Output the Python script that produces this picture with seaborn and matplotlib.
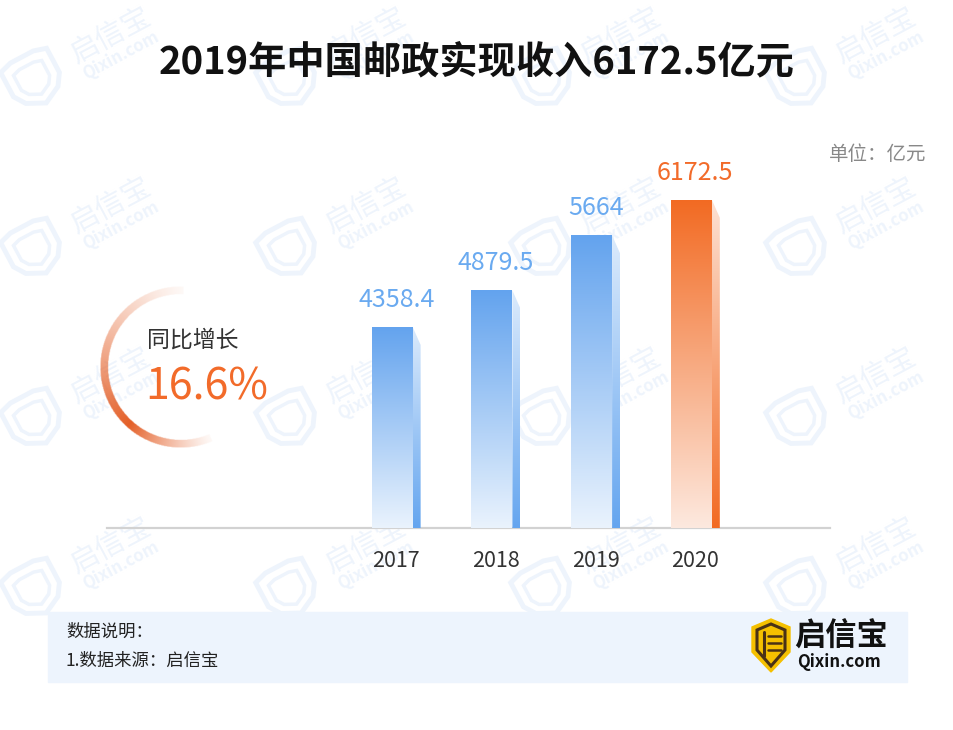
import numpy as np
import pandas as pd
import matplotlib
matplotlib.use("Agg")
import matplotlib.pyplot as plt
import seaborn as sns
from matplotlib.patches import Polygon, Rectangle
from matplotlib.colors import LinearSegmentedColormap, to_rgb

# 数据
years = ["2017", "2018", "2019", "2020"]
revenue = [4358.4, 4879.5, 5664, 6172.5]
value_labels = ["4358.4", "4879.5", "5664", "6172.5"]
growth_label = "16.6%"
title = "2019年中国邮政实现收入6172.5亿元"

BLUE_TOP = "#63a3ee"
BLUE_BOT = "#eaf3fd"
ORANGE_TOP = "#f26a22"
ORANGE_BOT = "#fde9df"

sns.set_theme(style="white")
plt.rcParams["font.family"] = ["Noto Sans CJK SC", "DejaVu Sans"]

W, H = 954, 730
fig = plt.figure(figsize=(W / 100, H / 100), dpi=100)

# 背景层 (像素坐标, y 向上)
bg = fig.add_axes([0, 0, 1, 1], zorder=0)
bg.set_xlim(0, W)
bg.set_ylim(0, H)
bg.axis("off")


def Y(y):
    return H - y


def shield_pts(cx, cy, s, rot):
    # 盾牌轮廓 (y 向下), 顶部略平, 底部圆尖
    base = [(-1, -0.85), (-0.5, -1.0), (0.5, -1.0), (1, -0.85), (1, 0.2),
            (0.7, 0.65), (0, 1.0), (-0.7, 0.65), (-1, 0.2)]
    base = np.array(base)
    t = np.radians(rot)
    R = np.array([[np.cos(t), -np.sin(t)], [np.sin(t), np.cos(t)]])
    pts = base * s @ R.T
    return [(cx + x, Y(cy + y)) for x, y in pts]


# 水印
wm_color = "#eef4fc"
for y0 in [80, 250, 420, 590]:
    for x0 in [34, 289, 544, 799]:
        bg.add_patch(Polygon(shield_pts(x0, y0, 26, -28), closed=True, fill=False,
                             edgecolor=wm_color, lw=3.5, zorder=0))
        bg.add_patch(Polygon(shield_pts(x0, y0, 16, -28), closed=True, fill=False,
                             edgecolor=wm_color, lw=2.5, zorder=0))
        bg.text(x0 + 78, Y(y0 - 44), "启信宝", rotation=28, fontsize=21,
                color=wm_color, ha="center", va="center", zorder=0)
        bg.text(x0 + 87, Y(y0 - 25), "Qixin.com", rotation=28, fontsize=12, fontweight="bold",
                color=wm_color, ha="center", va="center", zorder=0)

# 标题
bg.text(477, Y(62), title, fontsize=27.5, fontweight="bold", color="#111111",
        ha="center", va="center")
bg.text(926, Y(155), "单位：亿元", fontsize=14, color="#888888", ha="right", va="center")

# 同比增长圆环 (渐变)
rc_x, rc_y, r_out, r_w = 181, Y(367), 81, 8
n = 260
xs = np.linspace(rc_x - r_out - 2, rc_x + r_out + 2, n)
ys = np.linspace(rc_y - r_out - 2, rc_y + r_out + 2, n)
gx, gy = np.meshgrid(xs, ys)
dist = np.hypot(gx - rc_x, gy - rc_y)
ang = np.degrees(np.arctan2(gy - rc_y, gx - rc_x)) % 360
a0, apeak, a1 = 88, 228, 293
alpha = np.where(ang <= apeak, (ang - a0) / (apeak - a0), (a1 - ang) / (a1 - apeak))
alpha = np.clip(alpha, 0, 1)
alpha = np.where((ang < a0) | (ang > a1), 0, 0.04 + 0.96 * alpha ** 1.2)
ring_mask = (dist <= r_out) & (dist >= r_out - r_w)
aa = np.clip(np.minimum(r_out - dist, dist - (r_out - r_w)) + 0.5, 0, 1)
alpha = alpha * aa * ring_mask
rgba = np.zeros((n, n, 4))
rgba[..., :3] = to_rgb("#e45f27")
rgba[..., 3] = alpha
bg.imshow(rgba, origin="lower", extent=[xs[0], xs[-1], ys[0], ys[-1]], zorder=2,
          interpolation="bilinear", aspect="auto")
bg.set_xlim(0, W)
bg.set_ylim(0, H)

bg.text(147, Y(340), "同比增长", fontsize=16.5, color="#333333", ha="left", va="center", zorder=3)
bg.text(145, Y(388), growth_label, fontsize=31, color="#f26b2a", ha="left", va="center", zorder=3)

# 底部说明框
bg.add_patch(Rectangle((48, Y(682)), 859, 70, color="#edf4fd", zorder=1))
bg.text(66, Y(632), "数据说明：", fontsize=12.5, color="#222222", ha="left", va="center", zorder=2)
bg.text(66, Y(661), "1.数据来源：启信宝", fontsize=12.5, color="#222222", ha="left", va="center", zorder=2)

# logo
shield = [(752, 627), (771, 619), (790, 627), (790, 652), (771, 672), (752, 652)]
bg.add_patch(Polygon([(x, Y(y)) for x, y in shield], closed=True, color="#f5c000", zorder=2))
inner = [(757, 630), (771, 624), (785, 630), (785, 650), (771, 666), (757, 650)]
bg.add_patch(Polygon([(x, Y(y)) for x, y in inner], closed=True, fill=False,
                     edgecolor="#4a3216", lw=2.2, zorder=3))
bg.plot([764, 764], [Y(632), Y(656)], color="#4a3216", lw=2.2, zorder=3)
for yy in [636, 643, 650]:
    bg.plot([768, 781], [Y(yy), Y(yy)], color="#4a3216", lw=1.8, zorder=3)
bg.text(794, Y(637), "启信宝", fontsize=22.5, fontweight="bold", color="#111111",
        ha="left", va="center", zorder=3)
bg.text(797, Y(662), "Qixin.com", fontsize=12, fontweight="bold", color="#111111",
        ha="left", va="center", zorder=3)

# 柱状图
ax_top_px, ax_bot_px = 150, 528
ax_l_px, ax_r_px = 107, 830
ax = fig.add_axes([ax_l_px / W, (H - ax_bot_px) / H, (ax_r_px - ax_l_px) / W,
                   (ax_bot_px - ax_top_px) / H], zorder=5)
ax.patch.set_alpha(0)

df = pd.DataFrame({"year": years, "revenue": revenue})
sns.barplot(data=df, x="year", y="revenue", width=0.49, color=BLUE_TOP, ax=ax)

ymin, ymax = 1490, 6882
ax.set_ylim(ymin, ymax)
ax.set_xlim(-2.9, 4.35)
units_per_px = (ymax - ymin) / (ax_bot_px - ax_top_px)
drop = 18 * units_per_px
front_frac = 41 / 49


def grad_fill(verts, c_top, c_bot, z):
    poly = Polygon(verts, closed=True, facecolor="none", edgecolor="none")
    ax.add_patch(poly)
    px, py = zip(*verts)
    cmap = LinearSegmentedColormap.from_list("g", [c_bot, c_top])
    grad = np.linspace(0, 1, 256).reshape(-1, 1)
    im = ax.imshow(grad, cmap=cmap, origin="lower", aspect="auto", zorder=z,
                   extent=[min(px), max(px), min(py), max(py)], interpolation="bicubic")
    im.set_clip_path(poly)


for i, p in enumerate(ax.patches[:len(years)]):
    x0, w, top = p.get_x(), p.get_width(), p.get_height()
    p.set_visible(False)
    xf = x0 + w * front_frac
    xr = x0 + w
    if i == len(years) - 1:
        ct, cb, lc = ORANGE_TOP, ORANGE_BOT, "#f26b2a"
        side_top, side_bot = "#fde2d4", ORANGE_TOP
    else:
        ct, cb, lc = BLUE_TOP, BLUE_BOT, "#6aaaf0"
        side_top, side_bot = "#dcebfc", "#64a5ef"
    grad_fill([(x0, ymin), (xf, ymin), (xf, top), (x0, top)], ct, cb, 3)
    grad_fill([(xf, ymin), (xr, ymin), (xr, top - drop), (xf, top)], side_top, side_bot, 3)
    ax.text(x0 + w / 2, top + 27 * units_per_px, value_labels[i], fontsize=18, color=lc,
            ha="center", va="center")

ax.set_ylim(ymin, ymax)
ax.set_xlim(-2.9, 4.35)
ax.set_xlabel("")
ax.set_ylabel("")
ax.set_yticks([])
for s in ["top", "right", "left"]:
    ax.spines[s].set_visible(False)
ax.spines["bottom"].set_color("#d2d2d2")
ax.spines["bottom"].set_linewidth(1.6)
ax.tick_params(axis="x", length=0, pad=16, labelsize=15.5, labelcolor="#333333")

fig.savefig("out.png", dpi=100)
